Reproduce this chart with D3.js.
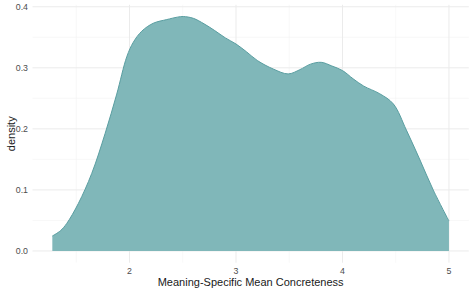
<!DOCTYPE html>
<html>
<head>
<meta charset="utf-8">
<script src="https://cdn.jsdelivr.net/npm/d3@7"></script>
<style>
  body { margin: 0; background: #fff; }
  svg text { font-family: "Liberation Sans", Arial, sans-serif; }
</style>
</head>
<body>
<svg width="474" height="292"></svg>
<script>
// density estimate
var concreteness = [1.275, 1.35, 1.41, 1.52, 1.645, 1.77, 1.88, 1.974, 2.036, 2.115, 2.223, 2.35, 2.45, 2.505,
                    2.6, 2.7, 2.8, 2.9, 3.0, 3.1, 3.2, 3.35, 3.49, 3.6, 3.7, 3.8, 3.9, 4.0, 4.1, 4.2,
                    4.35, 4.477, 4.6, 4.728, 4.853, 5.0];
var density = [0.0245, 0.033, 0.045, 0.078, 0.127, 0.192, 0.257, 0.318, 0.342, 0.360, 0.373, 0.379, 0.383, 0.384,
               0.381, 0.372, 0.361, 0.349, 0.339, 0.326, 0.312, 0.298, 0.290, 0.297, 0.306, 0.309, 0.303, 0.2955, 0.282, 0.270,
               0.2575, 0.241, 0.198, 0.149, 0.0996, 0.049];
var x_ticks = [2, 3, 4, 5];
var x_minor = [1.5, 2.5, 3.5, 4.5];
var y_ticks = [0, 0.1, 0.2, 0.3, 0.4];
var y_minor = [0.05, 0.15, 0.25, 0.35];

var x_title = "Meaning-Specific Mean Concreteness";
var y_title = "density";

var fill_color = "#80b7b9";
var line_color = "#5a9ea1";

var svg = d3.select("svg");

// panel edges
var panel_left = 32.5, panel_right = 468.8;
var panel_top = 4.8, panel_bottom = 262.7;

var xmin = d3.min(concreteness), xmax = d3.max(concreteness);
var xpad = (xmax - xmin) * 0.05;
var x = d3.scaleLinear().domain([xmin - xpad, xmax + xpad]).range([panel_left, panel_right]);

var ymax = d3.max(density);
var y = d3.scaleLinear().domain([-ymax * 0.05, ymax * 1.05]).range([panel_bottom, panel_top]);

// gridlines
var grid = svg.append("g");
grid.selectAll(".xminor").data(x_minor).enter().append("line")
    .attr("x1", d => x(d)).attr("x2", d => x(d))
    .attr("y1", panel_top).attr("y2", panel_bottom)
    .attr("stroke", "#f3f3f3").attr("stroke-width", 0.6);
grid.selectAll(".yminor").data(y_minor).enter().append("line")
    .attr("x1", panel_left).attr("x2", panel_right)
    .attr("y1", d => y(d)).attr("y2", d => y(d))
    .attr("stroke", "#f3f3f3").attr("stroke-width", 0.6);
grid.selectAll(".xmajor").data(x_ticks).enter().append("line")
    .attr("x1", d => x(d)).attr("x2", d => x(d))
    .attr("y1", panel_top).attr("y2", panel_bottom)
    .attr("stroke", "#ebebeb").attr("stroke-width", 1);
grid.selectAll(".ymajor").data(y_ticks).enter().append("line")
    .attr("x1", panel_left).attr("x2", panel_right)
    .attr("y1", d => y(d)).attr("y2", d => y(d))
    .attr("stroke", "#ebebeb").attr("stroke-width", 1);

var pts = concreteness.map((c, i) => [c, density[i]]);

var area = d3.area()
    .x(d => x(d[0]))
    .y0(y(0))
    .y1(d => y(d[1]))
    .curve(d3.curveCatmullRom);

svg.append("path")
    .datum(pts)
    .attr("d", area)
    .attr("fill", fill_color);

var line = d3.line()
    .x(d => x(d[0]))
    .y(d => y(d[1]))
    .curve(d3.curveCatmullRom);

svg.append("path")
    .datum(pts)
    .attr("d", line)
    .attr("fill", "none")
    .attr("stroke", line_color)
    .attr("stroke-width", 1);

// tick labels
svg.selectAll(".xlab").data(x_ticks).enter().append("text")
    .attr("x", d => x(d)).attr("y", 273.5)
    .attr("text-anchor", "middle")
    .attr("font-size", 8.8).attr("fill", "#4d4d4d")
    .text(d => d);

svg.selectAll(".ylab").data(y_ticks).enter().append("text")
    .attr("x", 28).attr("y", d => y(d) + 3)
    .attr("text-anchor", "end")
    .attr("font-size", 8.8).attr("fill", "#4d4d4d")
    .text(d => d3.format(".1f")(d));

// axis titles
svg.append("text")
    .attr("x", (panel_left + panel_right) / 2).attr("y", 286)
    .attr("text-anchor", "middle")
    .attr("font-size", 11).attr("fill", "#1a1a1a")
    .text(x_title);

svg.append("text")
    .attr("transform", "translate(15," + ((panel_top + panel_bottom) / 2) + ") rotate(-90)")
    .attr("text-anchor", "middle")
    .attr("font-size", 11).attr("fill", "#1a1a1a")
    .text(y_title);
</script>
</body>
</html>
